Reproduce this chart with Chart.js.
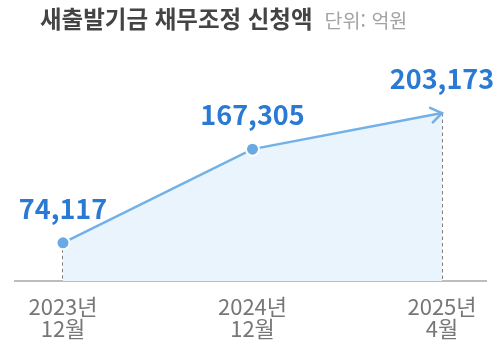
<!DOCTYPE html>
<html lang="ko">
<head>
<meta charset="utf-8">
<script src="https://cdn.jsdelivr.net/npm/chart.js@4/dist/chart.umd.min.js"></script>
<style>
  body { margin: 0; background: #fff; }
  #wrap { position: relative; width: 500px; height: 351px; }
  #title { position: absolute; left: 40px; top: 1px; font-family: "Noto Sans CJK KR", sans-serif; white-space: nowrap; }
  #title b { font-size: 23.5px; color: #444; font-weight: 700; }
  #title span { font-size: 19.5px; color: #a3a3a3; margin-left: 12px; }
</style>
</head>
<body>
<div id="wrap">
  <canvas id="c" width="500" height="351"></canvas>
  <div id="title"><b>새출발기금 채무조정 신청액</b><span>단위: 억원</span></div>
</div>
<script>
// 데이터
const periods = [['2023년', '12월'], ['2024년', '12월'], ['2025년', '4월']];
const amounts = [74117, 167305, 203173];

const lineColor = '#72b1e8';
const labelColor = '#2a7ad3';

// 점선, 기준선, 화살표, 값 라벨
const decorations = {
    id: 'decorations',
    beforeDatasetsDraw(chart) {
        const { ctx, chartArea } = chart;
        const pts = chart.getDatasetMeta(0).data;
        ctx.save();
        ctx.strokeStyle = '#bdbdbd';
        ctx.lineWidth = 2;
        ctx.beginPath();
        ctx.moveTo(14, chartArea.bottom);
        ctx.lineTo(487, chartArea.bottom);
        ctx.stroke();
        ctx.strokeStyle = '#6a6a6a';
        ctx.lineWidth = 1.7;
        ctx.setLineDash([3.5, 3]);
        pts.forEach(p => {
            ctx.beginPath();
            ctx.moveTo(p.x, p.y);
            ctx.lineTo(p.x, chartArea.bottom);
            ctx.stroke();
        });
        ctx.restore();
    },
    afterDatasetsDraw(chart) {
        const { ctx } = chart;
        const pts = chart.getDatasetMeta(0).data;
        const a = pts[pts.length - 2], b = pts[pts.length - 1];
        const ang = Math.atan2(b.y - a.y, b.x - a.x);
        ctx.save();
        ctx.strokeStyle = lineColor;
        ctx.lineWidth = 2.5;
        ctx.lineCap = 'round';
        ctx.beginPath();
        ctx.moveTo(b.x - 13 * Math.cos(ang - 0.6), b.y - 13 * Math.sin(ang - 0.6));
        ctx.lineTo(b.x, b.y);
        ctx.lineTo(b.x - 13 * Math.cos(ang + 0.6), b.y - 13 * Math.sin(ang + 0.6));
        ctx.stroke();

        ctx.fillStyle = labelColor;
        ctx.font = 'bold 27px "Noto Sans CJK KR", sans-serif';
        ctx.textAlign = 'center';
        ctx.textBaseline = 'middle';
        pts.forEach((p, i) => {
            ctx.fillText(amounts[i].toLocaleString('en-US'), p.x, p.y - 34);
        });
        ctx.restore();
    }
};

new Chart(document.getElementById('c'), {
    type: 'line',
    data: {
        labels: periods,
        datasets: [{
            data: amounts,
            borderColor: lineColor,
            borderWidth: 2.5,
            backgroundColor: '#eaf4fc',
            fill: 'start',
            tension: 0,
            pointRadius: [6.5, 6.5, 0],
            pointBackgroundColor: '#6aaae4',
            pointBorderColor: '#fff',
            pointBorderWidth: 2
        }]
    },
    options: {
        responsive: false,
        animation: false,
        layout: { padding: { left: 63, right: 58, top: 60, bottom: 5 } },
        plugins: { legend: { display: false }, tooltip: { enabled: false } },
        scales: {
            x: {
                offset: false,
                grid: { display: false },
                border: { display: false },
                ticks: {
                    color: '#777',
                    padding: 6,
                    maxRotation: 0,
                    autoSkip: false,
                    font: { family: '"Noto Sans CJK KR", sans-serif', size: 22, lineHeight: 1.02 }
                }
            },
            y: {
                display: false,
                min: 36000,
                max: 256000
            }
        }
    },
    plugins: [decorations]
});
</script>
</body>
</html>
